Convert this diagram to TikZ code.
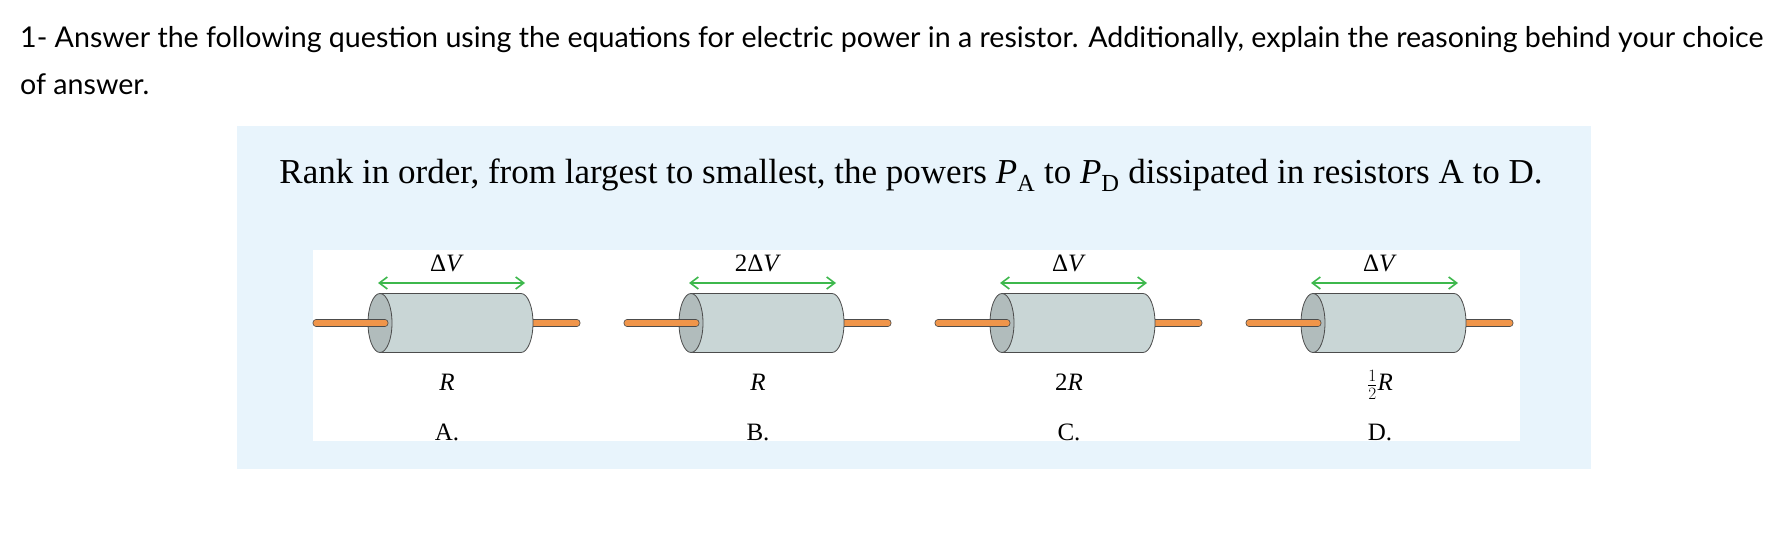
\documentclass[tikz,border=0pt]{standalone}
\usepackage{fontspec}
\setmainfont{Liberation Serif}
\newfontfamily\latofont{Lato}
\usetikzlibrary{arrows.meta}
\definecolor{bgblue}{HTML}{E8F4FC}
\definecolor{body}{HTML}{C9D6D6}
\definecolor{wire}{HTML}{F0954A}
\definecolor{arr}{HTML}{3DB84C}
\tikzset{
  hdr/.style={anchor=base west,font=\latofont\fontsize{28.6}{34}\selectfont,inner sep=0},
  lbl/.style={font=\fontsize{25}{30}\selectfont,inner sep=0},
  wirest/.style={draw=black!70,fill=wire,line width=0.6pt,rounded corners=3pt},
  dv/.style={arr,line width=1.6pt,{Straight Barb[length=8pt,width=12pt]}-{Straight Barb[length=8pt,width=12pt]}}
}
\newcommand{\resistor}[5]{%
  \begin{scope}[shift={(#1,0)}]
   \draw[wirest] (75,319.5) rectangle (130,326.5);
   \fill[body] (-70,293.5) -- (71,293.5) arc[start angle=-90,end angle=90,x radius=12,y radius=29.5] -- (-70,352.5) arc[start angle=90,end angle=270,x radius=12,y radius=29.5] -- cycle;
   \draw[black!70,line width=0.8pt] (-70,293.5) -- (71,293.5) arc[start angle=-90,end angle=90,x radius=12,y radius=29.5] -- (-70,352.5);
   \draw[black!70,fill=body!88!black,line width=0.8pt] (-70,323) ellipse[x radius=12,y radius=29.5];
   \draw[wirest] (-137,319.5) rectangle (-62,326.5);
   \coordinate (#5l) at (-72,283); \coordinate (#5r) at (75,283);
   \draw[dv] (#5l) -- (#5r);
   \node[lbl,anchor=base] (#5v) at (-3,272) {#2};
   \node[lbl,anchor=base] (#5R) at (-3,391) {#3};
   \node[lbl,anchor=base] (#5n) at (-3,441) {#4};
  \end{scope}}
\begin{document}
\begin{tikzpicture}[x=1pt,y=-1pt]
\useasboundingbox (0,0) rectangle (1786,534);
\node[hdr] (h1) at (20,48) {1- Answer the following question using the equations for electric power in a resistor. Additionally, explain the reasoning behind your choice};
\node[hdr] (h2) at (20,95) {of answer.};
\fill[bgblue] (237,126) rectangle (1591,469);
\node[font=\fontsize{35}{40}\selectfont,anchor=base,inner sep=0] (q) at (911,184) {Rank in order, from largest to smallest, the powers \textit{P}\textsubscript{A} to \textit{P}\textsubscript{D} dissipated in resistors A to D.};
\fill[white] (313,250) rectangle (1520,441);
\resistor{450}{Δ\textit{V}}{\textit{R}}{A.}{a}
\resistor{761}{2Δ\textit{V}}{\textit{R}}{B.}{b}
\resistor{1072}{Δ\textit{V}}{2\textit{R}}{C.}{c}
\resistor{1383}{Δ\textit{V}}{$\frac{1}{2}$\textit{R}}{D.}{d}
\end{tikzpicture}
\end{document}
